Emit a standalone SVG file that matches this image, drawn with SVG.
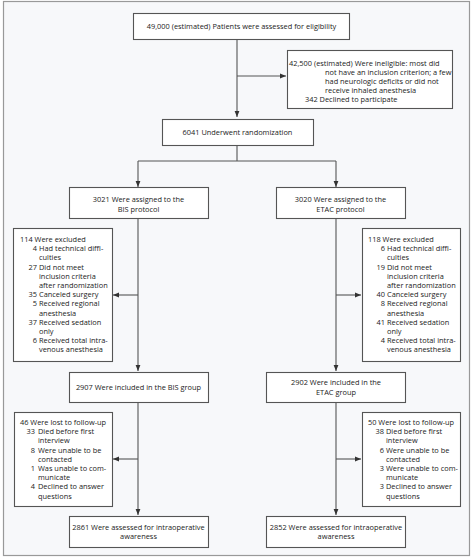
<svg xmlns="http://www.w3.org/2000/svg" width="474" height="558" viewBox="0 0 474 558">
<defs>
<marker id="ah" viewBox="0 0 6 6" refX="6" refY="3" markerWidth="6" markerHeight="6" markerUnits="userSpaceOnUse" orient="auto">
<path d="M0,0.6 L6,3 L0,5.4 Z" fill="#333"/>
</marker>
<style>
.box{fill:#ffffff;stroke:#555;stroke-width:1.1}
.ln{fill:none;stroke:#555;stroke-width:1.1}
text{font-family:"Open Sans","Noto Sans","DejaVu Sans",sans-serif;font-size:7.4px;fill:#222}
.c{text-anchor:middle}
.e{text-anchor:end}
</style>
</defs>
<rect x="3.5" y="1.5" width="466" height="554" fill="#f7f8fa" stroke="#999" stroke-width="1.2"/>
<g id="connectors">
<path class="ln" d="M237,39 V117" marker-end="url(#ah)"/>
<path class="ln" d="M237,76 H286" marker-end="url(#ah)"/>
<path class="ln" d="M237,145 V161 M138,161 H336"/>
<path class="ln" d="M138,161 V187" marker-end="url(#ah)"/>
<path class="ln" d="M336,161 V187" marker-end="url(#ah)"/>
<path class="ln" d="M138,218 V371" marker-end="url(#ah)"/>
<path class="ln" d="M138,295 H113" marker-end="url(#ah)"/>
<path class="ln" d="M336,218 V371" marker-end="url(#ah)"/>
<path class="ln" d="M336,295 H361" marker-end="url(#ah)"/>
<path class="ln" d="M138,402 V515" marker-end="url(#ah)"/>
<path class="ln" d="M138,459 H113" marker-end="url(#ah)"/>
<path class="ln" d="M336,402 V515" marker-end="url(#ah)"/>
<path class="ln" d="M336,459 H361" marker-end="url(#ah)"/>
</g>
<g id="assessed">
<rect class="box" x="133.5" y="13.5" width="216" height="26"/>
<text class="c" x="241.5" y="29">49,000 (estimated) Patients were assessed for eligibility</text>
</g>
<g id="ineligible">
<rect class="box" x="287.5" y="50.5" width="165" height="58"/>
<text x="289" y="66">42,500 (estimated) Were ineligible: most did</text>
<text x="325" y="75">not have an inclusion criterion; a few</text>
<text x="325" y="84">had neurologic deficits or did not</text>
<text x="325" y="93">receive inhaled anesthesia</text>
<text x="305" y="102">342 Declined to participate</text>
</g>
<g id="randomization">
<rect class="box" x="162.5" y="119.5" width="151" height="26"/>
<text class="c" x="237.5" y="135">6041 Underwent randomization</text>
</g>
<g id="bis-assigned">
<rect class="box" x="69.5" y="187.5" width="139" height="31"/>
<text class="c" x="138.5" y="201.5">3021 Were assigned to the</text>
<text class="c" x="138.5" y="211.5">BIS protocol</text>
</g>
<g id="etac-assigned">
<rect class="box" x="276.5" y="187.5" width="129" height="31"/>
<text class="c" x="340.5" y="201.5">3020 Were assigned to the</text>
<text class="c" x="340.5" y="211.5">ETAC protocol</text>
</g>
<g id="bis-excluded">
<rect class="box" x="13.5" y="228.5" width="99" height="133"/>
<text x="20" y="242">114 Were excluded</text>
<text class="e" x="37" y="251.2">4</text><text x="39" y="251.2">Had technical diffi-</text>
<text x="39" y="260.4">culties</text>
<text class="e" x="37" y="269.6">27</text><text x="39" y="269.6">Did not meet</text>
<text x="39" y="278.8">inclusion criteria</text>
<text x="39" y="288">after randomization</text>
<text class="e" x="37" y="297.2">35</text><text x="39" y="297.2">Canceled surgery</text>
<text class="e" x="37" y="306.4">5</text><text x="39" y="306.4">Received regional</text>
<text x="39" y="315.6">anesthesia</text>
<text class="e" x="37" y="324.8">37</text><text x="39" y="324.8">Received sedation</text>
<text x="39" y="334">only</text>
<text class="e" x="37" y="343.2">6</text><text x="39" y="343.2">Received total intra-</text>
<text x="39" y="352.4">venous anesthesia</text>
</g>
<g id="etac-excluded">
<rect class="box" x="362.5" y="228.5" width="98" height="133"/>
<text x="368" y="242">118 Were excluded</text>
<text class="e" x="385" y="251.2">6</text><text x="387" y="251.2">Had technical diffi-</text>
<text x="387" y="260.4">culties</text>
<text class="e" x="385" y="269.6">19</text><text x="387" y="269.6">Did not meet</text>
<text x="387" y="278.8">inclusion criteria</text>
<text x="387" y="288">after randomization</text>
<text class="e" x="385" y="297.2">40</text><text x="387" y="297.2">Canceled surgery</text>
<text class="e" x="385" y="306.4">8</text><text x="387" y="306.4">Received regional</text>
<text x="387" y="315.6">anesthesia</text>
<text class="e" x="385" y="324.8">41</text><text x="387" y="324.8">Received sedation</text>
<text x="387" y="334">only</text>
<text class="e" x="385" y="343.2">4</text><text x="387" y="343.2">Received total intra-</text>
<text x="387" y="352.4">venous anesthesia</text>
</g>
<g id="bis-included">
<rect class="box" x="69.5" y="372.5" width="139" height="30"/>
<text class="c" x="138.5" y="390">2907 Were included in the BIS group</text>
</g>
<g id="etac-included">
<rect class="box" x="266.5" y="372.5" width="139" height="30"/>
<text class="c" x="336" y="385">2902 Were included in the</text>
<text class="c" x="336" y="395">ETAC group</text>
</g>
<g id="bis-lost">
<rect class="box" x="14.5" y="412.5" width="98" height="94"/>
<text x="20" y="425">46 Were lost to follow-up</text>
<text class="e" x="35" y="434.2">33</text><text x="38" y="434.2">Died before first</text>
<text x="38" y="443.4">interview</text>
<text class="e" x="35" y="452.6">8</text><text x="38" y="452.6">Were unable to be</text>
<text x="38" y="461.8">contacted</text>
<text class="e" x="35" y="471">1</text><text x="38" y="471">Was unable to com-</text>
<text x="38" y="480.2">municate</text>
<text class="e" x="35" y="489.4">4</text><text x="38" y="489.4">Declined to answer</text>
<text x="38" y="498.6">questions</text>
</g>
<g id="etac-lost">
<rect class="box" x="362.5" y="412.5" width="98" height="94"/>
<text x="368" y="425">50 Were lost to follow-up</text>
<text class="e" x="384" y="434.2">38</text><text x="386" y="434.2">Died before first</text>
<text x="386" y="443.4">interview</text>
<text class="e" x="384" y="452.6">6</text><text x="386" y="452.6">Were unable to be</text>
<text x="386" y="461.8">contacted</text>
<text class="e" x="384" y="471">3</text><text x="386" y="471">Were unable to com-</text>
<text x="386" y="480.2">municate</text>
<text class="e" x="384" y="489.4">3</text><text x="386" y="489.4">Declined to answer</text>
<text x="386" y="498.6">questions</text>
</g>
<g id="bis-assessed">
<rect class="box" x="69.5" y="516.5" width="139" height="31"/>
<text class="c" x="138.5" y="529.5">2861 Were assessed for intraoperative</text>
<text class="c" x="138.5" y="539">awareness</text>
</g>
<g id="etac-assessed">
<rect class="box" x="266.5" y="516.5" width="139" height="31"/>
<text class="c" x="336" y="529.5">2852 Were assessed for intraoperative</text>
<text class="c" x="336" y="539">awareness</text>
</g>
</svg>
